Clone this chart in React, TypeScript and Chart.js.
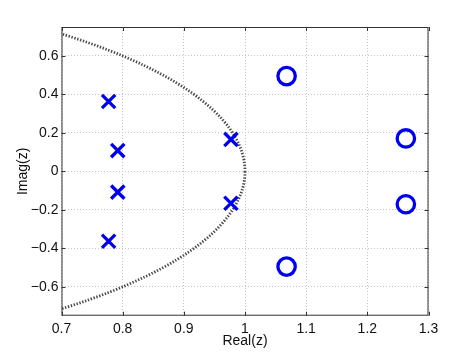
import React, { useEffect, useRef } from "react";
import { Chart, registerables } from "chart.js";

Chart.register(...registerables);

const poleRe = [0.777, 0.792, 0.977, 0.977, 0.792, 0.777];
const poleIm = [0.363, 0.108, 0.166, -0.166, -0.108, -0.363];
const zeroRe = [1.068, 1.263, 1.263, 1.068];
const zeroIm = [0.495, 0.171, -0.171, -0.495];

const xTickValues = [0.7, 0.8, 0.9, 1.0, 1.1, 1.2, 1.3];
const xTickLabels = ["0.7", "0.8", "0.9", "1", "1.1", "1.2", "1.3"];
const yTickValues = [-0.6, -0.4, -0.2, 0, 0.2, 0.4, 0.6];
const yTickLabels = ["\u22120.6", "\u22120.4", "\u22120.2", "0", "0.2", "0.4", "0.6"];
const xRange = [0.7, 1.3];
const yRange = [-0.75, 0.75];
const unitCircleRadius = 1;

const FONT = "'Liberation Sans', Arial, Helvetica, sans-serif";
const BLUE = "#0000f0";
const AXIS = "#333333";

const framePlugin = {
  id: "frame",
  beforeDatasetsDraw(chart: any) {
    const { ctx, chartArea: a, scales } = chart;
    const xs = scales.x;
    const ys = scales.y;
    // unit circle
    ctx.save();
    ctx.beginPath();
    ctx.rect(a.left, a.top, a.right - a.left, a.bottom - a.top);
    ctx.clip();
    const cx = xs.getPixelForValue(0);
    const cy = ys.getPixelForValue(0);
    const rx = xs.getPixelForValue(unitCircleRadius) - cx;
    const ry = cy - ys.getPixelForValue(unitCircleRadius);
    ctx.beginPath();
    ctx.ellipse(cx, cy, rx, ry, 0, 0, Math.PI * 2);
    ctx.strokeStyle = "#4a4a4a";
    ctx.lineWidth = 2.8;
    ctx.setLineDash([1.4, 1.6]);
    ctx.stroke();
    ctx.restore();
    // box and inward ticks
    ctx.save();
    ctx.strokeStyle = AXIS;
    ctx.lineWidth = 1;
    ctx.setLineDash([]);
    ctx.strokeRect(a.left + 0.5, a.top + 0.5, a.right - a.left - 1, a.bottom - a.top - 1);
    const tl = 4;
    ctx.beginPath();
    xTickValues.forEach((v) => {
      const px = Math.round(xs.getPixelForValue(v)) + 0.5;
      ctx.moveTo(px, a.bottom);
      ctx.lineTo(px, a.bottom - tl);
      ctx.moveTo(px, a.top);
      ctx.lineTo(px, a.top + tl);
    });
    yTickValues.forEach((v) => {
      const py = Math.round(ys.getPixelForValue(v)) + 0.5;
      ctx.moveTo(a.left, py);
      ctx.lineTo(a.left + tl, py);
      ctx.moveTo(a.right, py);
      ctx.lineTo(a.right - tl, py);
    });
    ctx.stroke();
    ctx.restore();
  },
};

export default function App() {
  const ref = useRef<HTMLCanvasElement>(null);
  useEffect(() => {
    document.body.style.margin = "0";
    const canvas = ref.current;
    if (!canvas) return;
    const poles = poleRe.map((x, i) => ({ x, y: poleIm[i] }));
    const zeros = zeroRe.map((x, i) => ({ x, y: zeroIm[i] }));
    const chart = new Chart(canvas, {
      type: "scatter",
      data: {
        datasets: [
          {
            label: "zeros",
            data: zeros,
            pointStyle: "circle",
            pointRadius: 8.7,
            pointBorderWidth: 3.3,
            borderColor: BLUE,
            backgroundColor: "rgba(0,0,0,0)",
            pointBackgroundColor: "rgba(0,0,0,0)",
            pointBorderColor: BLUE,
          },
          {
            label: "poles",
            data: poles,
            pointStyle: "crossRot",
            pointRadius: 9.4,
            pointBorderWidth: 3.3,
            borderColor: BLUE,
            pointBorderColor: BLUE,
            backgroundColor: BLUE,
          },
        ],
      },
      options: {
        responsive: false,
        animation: false,
        events: [],
        layout: { padding: { top: 27, right: 45.5, left: 0, bottom: 0 } },
        plugins: { legend: { display: false }, tooltip: { enabled: false } },
        scales: {
          x: {
            type: "linear",
            min: xRange[0],
            max: xRange[1],
            afterBuildTicks: (s: any) => {
              s.ticks = xTickValues.map((v) => ({ value: v }));
            },
            afterFit: (s: any) => {
              s.height = 39.3;
            },
            ticks: {
              autoSkip: false,
              maxRotation: 0,
              padding: 5,
              color: "#111",
              font: { family: FONT, size: 14 },
              callback: (_v: any, i: number) => xTickLabels[i],
            },
            grid: { color: "#c4c4c4", lineWidth: 1, drawTicks: false },
            border: { display: false, dash: [1, 2] },
            title: {
              display: true,
              text: "Real(z)",
              color: "#111",
              font: { family: FONT, size: 14 },
              padding: { top: 0, bottom: 5 },
            },
          },
          y: {
            type: "linear",
            min: yRange[0],
            max: yRange[1],
            afterBuildTicks: (s: any) => {
              s.ticks = yTickValues.map((v) => ({ value: v }));
            },
            afterFit: (s: any) => {
              s.width = 61.5;
            },
            ticks: {
              autoSkip: false,
              padding: 3,
              color: "#111",
              font: { family: FONT, size: 14 },
              callback: (_v: any, i: number) => yTickLabels[i],
            },
            grid: { color: "#c4c4c4", lineWidth: 1, drawTicks: false },
            border: { display: false, dash: [1, 2] },
            title: {
              display: true,
              text: "Imag(z)",
              color: "#111",
              font: { family: FONT, size: 14 },
              padding: { top: 15, bottom: 0 },
            },
          },
        },
      },
      plugins: [framePlugin],
    });
    return () => chart.destroy();
  }, []);
  return (
    <div style={{ width: 474, height: 355, background: "#fff" }}>
      <canvas ref={ref} width={474} height={355} style={{ display: "block" }} />
    </div>
  );
}
